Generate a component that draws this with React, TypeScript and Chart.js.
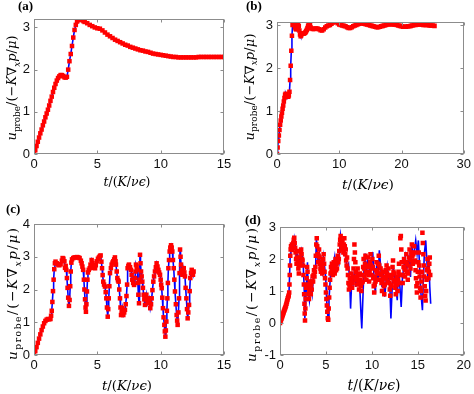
import React, { useEffect, useRef } from "react";
import { Chart, registerables } from "chart.js";

Chart.register(...registerables);

type P = [number, number];

// ---------- data (t, u) ----------
const aSeries: P[] = [
  [0, 0], [0.1, 0.09], [0.2, 0.19], [0.3, 0.29], [0.4, 0.39], [0.5, 0.49], [0.6, 0.58], [0.7, 0.68], [0.8, 0.77], [0.9, 0.87],
  [1.0, 0.96], [1.1, 1.05], [1.2, 1.15], [1.3, 1.26], [1.4, 1.36], [1.5, 1.47], [1.6, 1.57], [1.7, 1.66], [1.8, 1.74], [1.9, 1.8],
  [2.0, 1.84], [2.1, 1.87], [2.2, 1.87], [2.3, 1.85], [2.4, 1.82], [2.5, 1.81], [2.6, 1.83], [2.7, 2.0], [2.8, 2.2], [2.9, 2.37],
  [3.0, 2.56], [3.1, 2.76], [3.2, 2.94], [3.3, 3.06], [3.4, 3.14], [3.5, 3.17], [3.6, 3.19], [3.7, 3.19], [3.8, 3.18], [3.9, 3.15],
  [4.0, 3.13], [4.2, 3.1], [4.4, 3.06], [4.6, 3.03], [4.8, 3.0], [5.0, 2.98], [5.2, 2.97], [5.4, 2.93], [5.6, 2.88], [5.8, 2.83],
  [6.0, 2.79], [6.2, 2.75], [6.4, 2.71], [6.6, 2.68], [6.8, 2.65], [7.0, 2.62], [7.2, 2.59], [7.4, 2.57], [7.6, 2.54], [7.8, 2.52],
  [8.0, 2.5], [8.2, 2.48], [8.4, 2.46], [8.6, 2.45], [8.8, 2.43], [9.0, 2.42], [9.2, 2.4], [9.4, 2.38], [9.6, 2.37], [9.8, 2.36],
  [10.0, 2.35], [10.2, 2.34], [10.4, 2.33], [10.6, 2.32], [10.8, 2.31], [11.0, 2.3], [11.2, 2.3], [11.4, 2.29], [11.6, 2.29], [11.8, 2.29],
  [12.0, 2.29], [12.2, 2.29], [12.4, 2.29], [12.6, 2.29], [12.8, 2.29], [13.0, 2.3], [13.2, 2.3], [13.4, 2.3], [13.6, 2.3], [13.8, 2.3],
  [14.0, 2.3], [14.2, 2.3], [14.4, 2.3], [14.6, 2.3], [14.8, 2.3], [15.0, 2.3],
];

const bSeries: P[] = [
  [0, 0], [0.1, 0.15], [0.2, 0.3], [0.3, 0.43], [0.4, 0.56], [0.5, 0.68], [0.6, 0.78], [0.7, 0.87], [0.8, 0.96], [0.9, 1.05],
  [1.0, 1.13], [1.1, 1.22], [1.2, 1.3], [1.3, 1.38], [1.4, 1.4], [1.5, 1.36], [1.6, 1.33], [1.7, 1.33], [1.8, 1.33], [1.9, 1.36],
  [2.0, 1.45], [2.1, 1.72], [2.2, 2.05], [2.3, 2.4], [2.4, 2.75], [2.5, 3.0], [2.6, 3.08], [2.7, 3.06], [2.8, 3.0], [2.9, 2.94],
  [3.0, 2.91], [3.1, 2.9], [3.2, 2.92], [3.3, 2.98], [3.4, 3.03], [3.5, 2.97], [3.6, 2.87], [3.7, 2.78], [3.8, 2.74], [3.9, 2.76],
  [4.0, 2.8], [4.1, 2.81], [4.2, 2.8], [4.3, 2.8], [4.4, 2.81], [4.5, 2.82], [4.6, 2.84], [4.7, 2.86], [4.8, 2.89], [4.9, 2.93],
  [5.0, 2.98], [5.1, 3.03], [5.2, 3.05], [5.3, 3.0], [5.4, 2.94], [5.5, 2.92], [5.75, 2.91], [6.0, 2.91], [6.25, 2.92], [6.5, 2.92],
  [6.75, 2.9], [7.0, 2.88], [7.25, 2.87], [7.5, 2.9], [7.75, 2.94], [8.0, 2.97], [8.25, 2.99], [8.5, 3.0], [8.75, 3.03], [9.0, 3.06],
  [9.25, 3.08], [9.5, 3.07], [9.75, 3.04], [10.0, 3.01], [10.25, 3.0], [10.5, 2.99], [10.75, 2.98], [11.0, 2.97], [11.25, 2.95], [11.5, 2.93],
  [11.75, 2.93], [12.0, 2.95], [12.25, 2.97], [12.5, 2.99], [12.75, 3.0], [13.0, 3.02], [13.25, 3.03], [13.5, 3.04], [13.75, 3.04], [14.0, 3.03],
  [14.25, 3.02], [14.5, 3.01], [14.75, 3.0], [15.0, 2.99], [15.25, 2.98], [15.5, 2.97], [15.75, 2.96], [16.0, 2.95], [16.25, 2.95], [16.5, 2.96],
  [16.75, 2.97], [17.0, 2.98], [17.25, 2.99], [17.5, 3.0], [17.75, 3.01], [18.0, 3.02], [18.25, 3.02], [18.5, 3.02], [18.75, 3.01], [19.0, 3.01],
  [19.25, 3.0], [19.5, 2.99], [19.75, 2.98], [20.0, 2.97], [20.25, 2.96], [20.5, 2.96], [20.75, 2.96], [21.0, 2.97], [21.25, 2.97], [21.5, 2.98],
  [21.75, 2.99], [22.0, 3.0], [22.25, 3.0], [22.5, 3.01], [22.75, 3.01], [23.0, 3.01], [23.25, 3.01], [23.5, 3.0], [23.75, 3.0], [24.0, 3.0],
  [24.25, 3.0], [24.5, 2.99], [24.75, 2.99], [25.0, 2.99], [25.3, 2.98],
];

const cSeries: P[] = [
  [0, 0], [0.1, 0.12], [0.2, 0.24], [0.3, 0.37], [0.4, 0.5], [0.5, 0.63], [0.6, 0.76], [0.7, 0.87], [0.8, 0.97], [0.9, 1.04],
  [1.0, 1.08], [1.1, 1.1], [1.2, 1.09], [1.3, 1.1], [1.35, 1.2], [1.4, 1.35], [1.45, 1.62], [1.5, 1.95], [1.55, 2.3], [1.6, 2.62],
  [1.65, 2.8], [1.7, 2.85], [1.8, 2.8], [1.9, 2.76], [2.0, 2.74], [2.1, 2.77], [2.2, 2.88], [2.26, 2.96], [2.32, 2.94], [2.4, 2.86],
  [2.45, 2.66], [2.5, 2.72], [2.55, 2.6], [2.6, 2.35], [2.65, 2.05], [2.7, 1.75], [2.76, 1.5], [2.81, 1.68], [2.86, 2.1], [2.9, 2.55],
  [2.95, 2.82], [3.0, 2.92], [3.1, 2.96], [3.2, 2.98], [3.3, 2.98], [3.4, 2.99], [3.5, 2.98], [3.6, 2.96], [3.7, 2.88], [3.76, 2.8],
  [3.82, 2.7], [3.88, 2.6], [3.94, 2.3], [3.98, 2.0], [4.03, 1.7], [4.07, 1.45], [4.1, 1.32], [4.14, 1.55], [4.18, 1.94], [4.22, 2.3],
  [4.26, 2.52], [4.32, 2.6], [4.4, 2.65], [4.46, 2.76], [4.55, 2.9], [4.62, 2.8], [4.68, 2.7], [4.75, 2.66], [4.82, 2.65], [4.88, 2.74],
  [4.95, 2.86], [5.05, 2.94], [5.13, 2.98], [5.2, 3.02], [5.26, 3.04], [5.32, 2.85], [5.37, 2.65], [5.42, 2.44], [5.47, 2.24], [5.53, 2.15],
  [5.6, 2.09], [5.66, 1.92], [5.71, 1.73], [5.76, 1.45], [5.82, 1.17], [5.86, 1.4], [5.9, 1.73], [5.95, 2.1], [6.0, 2.5], [6.07, 2.65],
  [6.13, 2.76], [6.2, 2.82], [6.26, 2.86], [6.33, 2.92], [6.39, 2.98], [6.44, 2.86], [6.47, 2.76], [6.53, 2.55], [6.58, 2.35], [6.63, 2.28],
  [6.68, 2.24], [6.73, 2.0], [6.79, 1.73], [6.83, 1.45], [6.87, 1.22], [6.92, 1.3], [6.97, 1.43], [7.01, 1.3], [7.05, 1.22], [7.12, 1.3],
  [7.18, 1.38], [7.24, 1.55], [7.3, 1.8], [7.35, 2.15], [7.39, 2.65], [7.45, 2.72], [7.5, 2.76], [7.58, 2.68], [7.66, 2.6], [7.71, 2.45],
  [7.76, 2.3], [7.83, 2.2], [7.9, 2.14], [7.97, 2.35], [8.01, 2.55], [8.05, 2.76], [8.1, 2.7], [8.16, 2.6], [8.2, 2.2], [8.24, 1.84],
  [8.29, 1.58], [8.33, 2.3], [8.37, 3.06], [8.41, 2.8], [8.45, 2.55], [8.5, 2.4], [8.55, 2.24], [8.6, 2.05], [8.66, 1.84], [8.71, 1.7],
  [8.76, 1.53], [8.82, 1.7], [8.87, 1.84], [8.92, 1.7], [8.97, 1.58], [9.02, 1.65], [9.08, 1.73], [9.13, 1.6], [9.18, 1.43], [9.24, 1.55],
  [9.29, 1.73], [9.35, 1.98], [9.42, 2.24], [9.48, 2.4], [9.55, 2.55], [9.62, 2.68], [9.68, 2.8], [9.75, 2.7], [9.82, 2.6], [9.88, 2.52],
  [9.95, 2.45], [10.0, 2.3], [10.04, 2.15], [10.08, 2.04], [10.13, 1.75], [10.18, 1.43], [10.23, 1.15], [10.29, 0.92], [10.33, 0.72], [10.37, 0.56],
  [10.41, 0.75], [10.45, 1.02], [10.49, 1.35], [10.53, 1.73], [10.57, 2.2], [10.61, 2.65], [10.66, 2.9], [10.71, 3.16], [10.76, 3.28], [10.82, 3.35],
  [10.87, 3.28], [10.92, 3.16], [10.97, 2.9], [11.03, 2.65], [11.08, 2.3], [11.13, 1.94], [11.2, 1.55], [11.26, 1.22], [11.3, 1.05], [11.34, 0.92],
  [11.4, 1.3], [11.45, 1.73], [11.49, 2.5], [11.53, 3.22], [11.57, 3.0], [11.61, 2.76], [11.66, 2.6], [11.71, 2.45], [11.76, 2.55], [11.82, 2.65],
  [11.87, 2.52], [11.92, 2.4], [11.97, 2.05], [12.03, 1.73], [12.08, 1.4], [12.13, 1.12], [12.18, 1.3], [12.24, 1.53], [12.29, 1.95], [12.34, 2.35],
  [12.4, 2.5], [12.45, 2.6], [12.5, 2.5], [12.55, 2.45], [12.6, 2.55],
];

const dBlue: P[] = [
  [0, 0], [0.1, 0.09], [0.2, 0.17], [0.3, 0.25], [0.4, 0.34], [0.5, 0.42], [0.6, 0.5], [0.7, 0.6], [0.8, 0.72], [0.9, 0.82],
  [0.97, 0.87], [1.05, 1.54], [1.12, 2.17], [1.19, 2.37], [1.3, 2.3], [1.44, 2.37], [1.55, 2.63], [1.69, 2.37], [1.8, 1.85], [1.91, 2.17],
  [2.05, 1.65], [2.16, 2.06], [2.34, 2.27], [2.52, 1.85], [2.63, 1.13], [2.7, 0.14], [2.81, 0.71], [2.88, 1.23], [2.99, 1.9], [3.06, 1.02],
  [3.2, 0.71], [3.35, 1.23], [3.5, 0.92], [3.6, 1.33], [3.78, 1.54], [3.89, 1.85], [3.96, 2.63], [4.07, 2.27], [4.14, 1.85], [4.29, 2.17],
  [4.43, 1.65], [4.58, 1.54], [4.72, 2.06], [4.86, 1.75], [4.97, 1.44], [5.08, 0.71], [5.23, 0.09], [5.33, 0.71], [5.48, 1.44], [5.59, 1.85],
  [5.77, 1.75], [5.95, 2.06], [6.09, 1.54], [6.23, 1.96], [6.41, 1.85], [6.59, 2.74], [6.74, 2.48], [6.88, 2.22], [7.03, 2.37], [7.14, 2.06],
  [7.28, 1.75], [7.46, 1.85], [7.6, 1.23], [7.68, 0.45], [7.82, 1.44], [7.96, 1.23], [8.11, 1.65], [8.25, 1.13], [8.4, 1.54], [8.54, 1.33],
  [8.68, 1.13], [8.83, 0.19], [8.9, -0.17], [9.0, 0.61], [9.12, 1.54], [9.26, 2.17], [9.4, 1.54], [9.55, 1.96], [9.73, 1.65], [9.91, 1.75],
  [10.09, 2.22], [10.23, 1.44], [10.38, 0.92], [10.52, 1.85], [10.67, 1.33], [10.81, 2.27], [10.96, 1.75], [11.1, 1.13], [11.24, 1.54], [11.39, 0.82],
  [11.53, 1.23], [11.68, 1.75], [11.82, 1.44], [11.96, 1.13], [12.07, 0.14], [12.18, 0.92], [12.32, 1.75], [12.47, 1.44], [12.61, 1.13], [12.76, 0.71],
  [12.9, 1.65], [13.05, 1.13], [13.19, 0.5], [13.33, 1.44], [13.48, 1.75], [13.62, 2.06], [13.77, 1.65], [13.91, 1.85], [14.05, 2.06], [14.2, 1.44],
  [14.34, 2.48], [14.49, 2.06], [14.63, 2.27], [14.77, 2.58], [14.92, 2.17], [15.06, 2.58], [15.21, 1.65], [15.34, 0.92], [15.5, 0.4], [15.6, 1.33],
  [15.71, 2.17], [15.86, 2.58], [16.0, 1.85], [16.1, 1.44], [16.2, 2.06], [16.3, 1.13], [16.4, 0.6],
];

const dRed: P[] = [
  [0, 0], [0.05, 0.04], [0.1, 0.09], [0.15, 0.13], [0.2, 0.17], [0.25, 0.21], [0.3, 0.25], [0.35, 0.3], [0.4, 0.34], [0.45, 0.38],
  [0.5, 0.42], [0.55, 0.46], [0.6, 0.5], [0.65, 0.55], [0.7, 0.6], [0.75, 0.66], [0.8, 0.72], [0.85, 0.77], [0.9, 0.82], [0.95, 0.86],
  [1.0, 0.95], [1.03, 1.2], [1.06, 1.5], [1.09, 1.8], [1.12, 2.1], [1.16, 2.3], [1.2, 2.4], [1.25, 2.32], [1.3, 2.45], [1.35, 2.28],
  [1.4, 2.4], [1.45, 2.5], [1.5, 2.6], [1.55, 2.66], [1.6, 2.5], [1.65, 2.35], [1.7, 2.2], [1.75, 2.0], [1.8, 1.85], [1.85, 2.05],
  [1.9, 2.25], [1.95, 1.9], [2.0, 1.7], [2.05, 1.55], [2.1, 1.8], [2.15, 2.05], [2.2, 1.9], [2.25, 2.2], [2.3, 2.3], [2.35, 2.15],
  [2.4, 2.0], [2.45, 1.95], [2.5, 1.8], [2.55, 1.5], [2.6, 1.2], [2.63, 0.9], [2.66, 0.6], [2.69, 0.3], [2.72, 0.08], [2.76, 0.45],
  [2.8, 0.75], [2.85, 1.1], [2.9, 1.4], [2.95, 1.75], [3.0, 1.6], [3.05, 1.2], [3.1, 0.9], [3.15, 0.75], [3.2, 1.0], [3.25, 1.3],
  [3.3, 1.1], [3.35, 0.9], [3.4, 1.2], [3.45, 1.05], [3.5, 1.3], [3.55, 1.45], [3.6, 1.3], [3.65, 1.5], [3.7, 1.65], [3.75, 1.45],
  [3.8, 1.6], [3.85, 1.75], [3.9, 2.1], [3.95, 2.45], [4.0, 2.65], [4.05, 2.4], [4.1, 2.15], [4.15, 1.9], [4.2, 2.1], [4.25, 2.3],
  [4.3, 2.05], [4.35, 1.85], [4.4, 1.7], [4.45, 1.6], [4.5, 1.75], [4.55, 1.9], [4.6, 1.55], [4.65, 1.7], [4.7, 2.0], [4.75, 2.15],
  [4.8, 1.85], [4.85, 1.6], [4.9, 1.4], [4.95, 1.2], [5.0, 0.95], [5.05, 0.75], [5.1, 0.55], [5.15, 0.35], [5.2, 0.15], [5.25, 0.1],
  [5.3, 0.45], [5.35, 0.8], [5.4, 1.1], [5.45, 1.35], [5.5, 1.55], [5.55, 1.75], [5.6, 1.6], [5.65, 1.85], [5.7, 1.7], [5.75, 1.5],
  [5.8, 1.65], [5.85, 1.9], [5.9, 1.75], [5.95, 1.55], [6.0, 1.8], [6.05, 2.0], [6.1, 1.65], [6.15, 1.85], [6.2, 1.7], [6.25, 1.95],
  [6.3, 2.1], [6.35, 1.9], [6.4, 2.0], [6.45, 2.25], [6.5, 2.45], [6.55, 2.6], [6.6, 2.72], [6.65, 2.55], [6.7, 2.4], [6.75, 2.3],
  [6.8, 2.55], [6.85, 2.35], [6.9, 2.2], [6.95, 2.45], [7.0, 2.65], [7.05, 2.4], [7.1, 2.15], [7.15, 2.3], [7.2, 1.95], [7.25, 1.8],
  [7.3, 2.05], [7.35, 1.7], [7.4, 1.5], [7.45, 1.25], [7.5, 1.05], [7.55, 1.2], [7.6, 1.4], [7.65, 1.15], [7.7, 1.3], [7.75, 1.55],
  [7.8, 1.35], [7.85, 1.1], [7.9, 1.25], [7.95, 1.45], [8.0, 1.7], [8.05, 2.0], [8.1, 2.45], [8.15, 2.2], [8.2, 1.9], [8.25, 1.6],
  [8.3, 1.35], [8.35, 1.2], [8.4, 1.45], [8.45, 1.7], [8.5, 1.5], [8.55, 1.25], [8.6, 1.05], [8.65, 1.3], [8.7, 1.55], [8.75, 1.35],
  [8.8, 1.15], [8.85, 1.0], [8.9, 1.25], [8.95, 1.5], [9.0, 1.3], [9.05, 1.75], [9.1, 2.0], [9.15, 1.7], [9.2, 1.45], [9.25, 1.85],
  [9.3, 2.1], [9.35, 1.6], [9.4, 1.35], [9.45, 1.55], [9.5, 1.8], [9.55, 2.05], [9.6, 1.75], [9.65, 1.5], [9.7, 1.3], [9.75, 1.6],
  [9.8, 1.9], [9.85, 2.15], [9.9, 1.8], [9.95, 1.5], [10.0, 1.7], [10.05, 2.0], [10.1, 1.75], [10.15, 1.4], [10.2, 1.15], [10.25, 0.95],
  [10.3, 1.2], [10.35, 1.45], [10.4, 1.3], [10.45, 1.65], [10.5, 1.9], [10.55, 1.6], [10.6, 1.35], [10.65, 1.55], [10.7, 1.85], [10.75, 2.1],
  [10.8, 1.8], [10.85, 1.55], [10.9, 1.35], [10.95, 1.7], [11.0, 1.5], [11.05, 1.25], [11.1, 1.0], [11.15, 1.3], [11.2, 1.6], [11.25, 1.4],
  [11.3, 1.15], [11.35, 0.9], [11.4, 1.2], [11.45, 1.45], [11.5, 1.65], [11.55, 1.4], [11.6, 1.8], [11.65, 1.55], [11.7, 1.3], [11.75, 1.5],
  [11.8, 1.7], [11.85, 1.45], [11.9, 1.25], [11.95, 1.05], [12.0, 0.85], [12.05, 1.15], [12.1, 1.4], [12.15, 1.2], [12.2, 1.5], [12.25, 1.75],
  [12.3, 1.95], [12.35, 1.6], [12.4, 1.35], [12.45, 1.55], [12.5, 1.3], [12.55, 1.1], [12.6, 0.9], [12.65, 1.2], [12.7, 1.45], [12.75, 1.2],
  [12.8, 1.0], [12.85, 1.35], [12.9, 1.6], [12.95, 1.85], [13.0, 1.5], [13.05, 1.25], [13.1, 2.65], [13.15, 2.72], [13.2, 2.3], [13.25, 1.9],
  [13.3, 1.5], [13.35, 1.25], [13.4, 1.5], [13.45, 1.75], [13.5, 2.0], [13.55, 1.7], [13.6, 1.45], [13.65, 1.65], [13.7, 1.9], [13.75, 2.15],
  [13.8, 1.85], [13.85, 1.6], [13.9, 1.35], [13.95, 1.55], [14.0, 1.8], [14.05, 2.05], [14.1, 2.3], [14.15, 2.0], [14.2, 1.7], [14.25, 1.95],
  [14.3, 2.2], [14.35, 2.45], [14.4, 2.1], [14.45, 1.85], [14.5, 2.15], [14.55, 1.9], [14.6, 2.4], [14.65, 2.2], [14.7, 1.95], [14.75, 1.65],
  [14.8, 1.4], [14.85, 1.15], [14.9, 0.95], [14.95, 1.25], [15.0, 1.6], [15.05, 1.9], [15.1, 2.2], [15.15, 1.8], [15.2, 1.45], [15.25, 1.1],
  [15.3, 0.8], [15.35, 1.0], [15.4, 1.3], [15.45, 1.6], [15.5, 2.82], [15.55, 2.5], [15.6, 2.15], [15.65, 1.8], [15.7, 1.45], [15.75, 1.15],
  [15.8, 0.85], [15.85, 0.7], [15.9, 1.0], [15.95, 1.35], [16.0, 1.65], [16.05, 2.0], [16.1, 1.7], [16.15, 1.4], [16.2, 1.6], [16.25, 1.85],
  [16.3, 2.05], [16.35, 1.5],
];

// tick values
const aXTicks = [0, 5, 10, 15];
const aYTicks = [0, 1, 2, 3];
const bXTicks = [0, 10, 20, 30];
const bYTicks = [0, 1, 2, 3];
const cXTicks = [0, 5, 10, 15];
const cYTicks = [0, 1, 2, 3, 4];
const dXTicks = [0, 5, 10, 15, 20];
const dYTicks = [-1, 0, 1, 2, 3];

// ---------- styling ----------
const RED = "#ff0000";
const BLUE = "#0000ff";
const FRAME = "#8c8c8c";
const SERIF = "'DejaVu Serif', 'Liberation Serif', serif";
const LABEL_SERIF = "'Liberation Serif', 'DejaVu Serif', serif";
const SANS = "'Liberation Sans', Arial, sans-serif";

type Seg = { t: string; it?: boolean; sub?: boolean };
const Y_TITLE: Seg[] = [
  { t: "u", it: true }, { t: "probe", sub: true }, { t: "/(−" }, { t: "K", it: true }, { t: "∇" },
  { t: "x", it: true, sub: true }, { t: "p", it: true }, { t: "/" }, { t: "μ", it: true }, { t: ")" },
];
const X_TITLE: Seg[] = [
  { t: "t", it: true }, { t: "/(" }, { t: "K", it: true }, { t: "/" }, { t: "νϵ", it: true }, { t: ")" },
];

// draws a title of a given font size, spread (letter-spaced) to a given length
function drawRich(ctx: CanvasRenderingContext2D, segs: Seg[], cx: number, cy: number, len: number, size0: number, rotate: boolean) {
  const font = (s: Seg, size: number) => `${s.it ? "italic " : ""}${s.sub ? size * 0.68 : size}px ${SERIF}`;
  let w = 0;
  let n = 0;
  for (const s of segs) { ctx.font = font(s, size0); w += ctx.measureText(s.t).width; n += [...s.t].length; }
  let size = size0;
  let gap = 0;
  if (w > len) size = (size0 * len) / w;
  else gap = (len - w) / Math.max(1, n - 1);
  ctx.save();
  ctx.translate(cx, cy);
  if (rotate) ctx.rotate(-Math.PI / 2);
  ctx.fillStyle = "#000";
  ctx.textBaseline = "alphabetic";
  ctx.textAlign = "left";
  let x = -len / 2;
  const by = size * 0.32;
  for (const s of segs) {
    ctx.font = font(s, size);
    for (const ch of [...s.t]) {
      ctx.fillText(ch, x, by + (s.sub ? size * 0.28 : 0));
      x += ctx.measureText(ch).width + gap;
    }
  }
  ctx.restore();
}

interface Panel {
  label: string;
  cx: number; cy: number; cw: number; ch: number; // canvas box (page coords)
  l: number; r: number; t: number; b: number; // plot area (page coords)
  xMin: number; xMax: number; yMin: number; yMax: number;
  xTicks: number[]; yTicks: number[];
  blue: P[]; red: P[];
  yt: [number, number, number, number]; xt: [number, number, number, number]; lab: [number, number];
}

const panels: Panel[] = [
  { label: "(a)", cx: 0, cy: 0, cw: 237, ch: 197, l: 34, r: 224, t: 19, b: 154, xMin: 0, xMax: 15, yMin: 0, yMax: 3.2,
    xTicks: aXTicks, yTicks: aYTicks, blue: aSeries, red: aSeries, yt: [12, 88, 105, 13], xt: [127, 182, 47, 13.5], lab: [18, 7] },
  { label: "(b)", cx: 237, cy: 0, cw: 237, ch: 197, l: 277, r: 466, t: 22, b: 154, xMin: 0, xMax: 30, yMin: 0, yMax: 3.07,
    xTicks: bXTicks, yTicks: bYTicks, blue: bSeries, red: bSeries, yt: [249.5, 87, 107, 13], xt: [368, 185, 52, 14], lab: [246, 7] },
  { label: "(c)", cx: 0, cy: 197, cw: 237, ch: 197, l: 34, r: 224, t: 224, b: 355, xMin: 0, xMax: 15, yMin: 0, yMax: 4,
    xTicks: cXTicks, yTicks: cYTicks, blue: cSeries, red: cSeries, yt: [13, 294, 132, 13.5], xt: [127, 386, 50, 14], lab: [6, 210] },
  { label: "(d)", cx: 237, cy: 197, cw: 237, ch: 197, l: 280, r: 465, t: 227, b: 355, xMin: 0, xMax: 20, yMin: -1, yMax: 3,
    xTicks: dXTicks, yTicks: dYTicks, blue: dBlue, red: dRed, yt: [252, 295, 134, 13.5], xt: [374, 386, 53, 14], lab: [245, 221] },
];

const framePlugin = {
  id: "frame",
  afterDraw(chart: any, _a: any, o: any) {
    const p: Panel = o.panel;
    const { ctx, chartArea: ca, scales } = chart;
    const L = Math.round(ca.left) + 0.5, R = Math.round(ca.right) - 0.5;
    const T = Math.round(ca.top) + 0.5, B = Math.round(ca.bottom) - 0.5;
    ctx.save();
    ctx.strokeStyle = FRAME;
    ctx.lineWidth = 1;
    ctx.strokeRect(L, T, R - L, B - T);
    const tl = 3;
    ctx.beginPath();
    for (const tk of scales.x.ticks) {
      const px = Math.round(scales.x.getPixelForValue(tk.value)) + 0.5;
      ctx.moveTo(px, B); ctx.lineTo(px, B - tl);
      ctx.moveTo(px, T); ctx.lineTo(px, T + tl);
    }
    for (const tk of scales.y.ticks) {
      const py = Math.round(scales.y.getPixelForValue(tk.value)) + 0.5;
      ctx.moveTo(L, py); ctx.lineTo(L + tl, py);
      ctx.moveTo(R, py); ctx.lineTo(R - tl, py);
    }
    ctx.stroke();
    drawRich(ctx, Y_TITLE, p.yt[0] - p.cx, p.yt[1] - p.cy, p.yt[2], p.yt[3], true);
    drawRich(ctx, X_TITLE, p.xt[0] - p.cx, p.xt[1] - p.cy, p.xt[2], p.xt[3], false);
    ctx.font = `bold 13px ${LABEL_SERIF}`;
    ctx.fillStyle = "#000";
    ctx.textBaseline = "middle";
    ctx.textAlign = "left";
    ctx.fillText(p.label, p.lab[0] - p.cx, p.lab[1] - p.cy);
    ctx.restore();
  },
};

function PanelChart({ p }: { p: Panel }) {
  const ref = useRef<HTMLCanvasElement>(null);
  useEffect(() => {
    const canvas = ref.current;
    if (!canvas) return;
    const tickFont = { family: SANS, size: 13 };
    const chart = new Chart(canvas, {
      type: "scatter",
      data: {
        datasets: [
          {
            data: p.blue.map(([x, y]) => ({ x, y })),
            showLine: true, borderColor: BLUE, backgroundColor: BLUE, borderWidth: 1.6,
            pointRadius: 0, tension: 0, order: 2,
          },
          {
            data: p.red.map(([x, y]) => ({ x, y })),
            showLine: false, pointStyle: "rect", pointRadius: 3.2, pointBackgroundColor: RED,
            pointBorderWidth: 0, borderColor: RED, backgroundColor: RED, order: 1,
          },
        ],
      } as any,
      options: {
        responsive: false,
        animation: false,
        devicePixelRatio: 1,
        events: [],
        layout: { padding: { top: p.t - p.cy, right: p.cx + p.cw - p.r, left: 0, bottom: 0 } },
        plugins: { legend: { display: false }, tooltip: { enabled: false }, frame: { panel: p } } as any,
        scales: {
          x: {
            type: "linear", min: p.xMin, max: p.xMax,
            grid: { display: false, drawTicks: false }, border: { display: false },
            ticks: { font: tickFont, color: "#111", padding: 3, maxRotation: 0, autoSkip: false, includeBounds: false },
            afterBuildTicks: (s: any) => { s.ticks = p.xTicks.map((v) => ({ value: v })); },
            afterFit: (s: any) => { s.height = p.cy + p.ch - p.b; },
          },
          y: {
            type: "linear", min: p.yMin, max: p.yMax,
            grid: { display: false, drawTicks: false }, border: { display: false },
            ticks: { font: tickFont, color: "#111", padding: 4, autoSkip: false, includeBounds: false },
            afterBuildTicks: (s: any) => { s.ticks = p.yTicks.map((v) => ({ value: v })); },
            afterFit: (s: any) => { s.width = p.l - p.cx; },
          },
        } as any,
      },
      plugins: [framePlugin as any],
    });
    return () => chart.destroy();
  }, [p]);
  return (
    <canvas
      ref={ref}
      width={p.cw}
      height={p.ch}
      style={{ position: "absolute", left: p.cx, top: p.cy, width: p.cw, height: p.ch }}
    />
  );
}

export default function App() {
  return (
    <div style={{ position: "absolute", left: 0, top: 0, width: 474, height: 394, background: "#fff", overflow: "hidden" }}>
      {panels.map((p) => (
        <PanelChart key={p.label} p={p} />
      ))}
    </div>
  );
}
